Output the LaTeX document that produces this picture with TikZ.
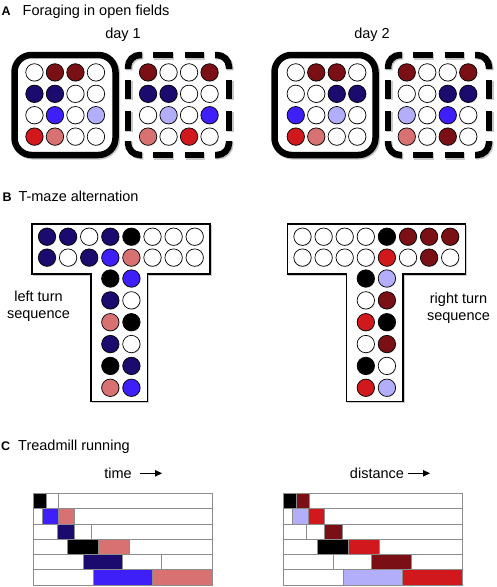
\documentclass[tikz,border=0pt]{standalone}
\usepackage{fontspec}
\setmainfont{Liberation Sans}
\usetikzlibrary{arrows.meta,shadows}
\definecolor{cDR}{HTML}{7A1015}
\definecolor{cN}{HTML}{1C0B6E}
\definecolor{cB}{HTML}{3F1FF7}
\definecolor{cL}{HTML}{B2AEFA}
\definecolor{cR}{HTML}{D0181D}
\definecolor{cP}{HTML}{D87272}
\definecolor{cK}{HTML}{000000}
\definecolor{cW}{HTML}{FFFFFF}
\definecolor{gridgray}{HTML}{8C8C8C}
\tikzset{
 dot/.style={circle, draw=black, line width=0.7pt, minimum size=17.4pt, inner sep=0pt,
   drop shadow={shadow xshift=0.6pt, shadow yshift=-0.8pt, opacity=0.3}},
 lbl/.style={font=\fontsize{14.5}{17}\selectfont, inner sep=0pt, anchor=base},
 letter/.style={font=\bfseries\fontsize{12.5}{14}\selectfont, inner sep=0pt, anchor=base west},
 solidbox/.style={line width=6.5pt, rounded corners=17pt},
 dashpiece/.style={line width=6.5pt, line cap=butt},
 cell/.style={draw=gridgray, line width=0.8pt},
 maze/.style={draw=black, line width=1.1pt, fill=white},
 timearrow/.style={line width=0.9pt, -{Triangle[length=7pt,width=6.5pt]}},
}
% 4x4 field of dots: cx, cy, prefix, colours
\newcommand\fieldgrid[4]{%
  \foreach \c [count=\i from 0] in {#4} {
    \pgfmathtruncatemacro\col{mod(\i,4)}
    \pgfmathtruncatemacro\row{div(\i,4)}
    \node[dot, fill=\c] (#3-\i) at ({#1+(\col-1.5)*20.5},{#2+(\row-1.5)*21.4}) {};
  }}
% solid arena
\newcommand\solidfield[2]{%
  \draw[solidbox, black!22] ({#1-50.5+1.3},{#2-50+1.3}) rectangle ({#1+50.5+1.3},{#2+50+1.3});
  \draw[solidbox, fill=white] ({#1-50.5},{#2-50}) rectangle ({#1+50.5},{#2+50});}
% dashed arena
\newcommand\dashpieces[3]{%
 \begin{scope}[shift={(#1,#2)}]
  \foreach \sx/\sy in {-1/-1,1/-1,1/1,-1/1} {
    \draw[dashpiece, #3, rounded corners=12pt] ({\sx*50.5},{\sy*50-\sy*14}) -- ({\sx*50.5},{\sy*50}) -- ({\sx*50.5-\sx*14},{\sy*50});
  }
  \foreach \s in {-1,1} {
   \draw[dashpiece, #3] (-25.5,{\s*50}) -- (-6,{\s*50});
   \draw[dashpiece, #3] (6,{\s*50}) -- (25.5,{\s*50});
   \draw[dashpiece, #3] ({\s*50.5},-25.5) -- ({\s*50.5},-6);
   \draw[dashpiece, #3] ({\s*50.5},6) -- ({\s*50.5},25.5);
  }
 \end{scope}}
\newcommand\dashfield[2]{%
  \dashpieces{#1+1.3}{#2+1.3}{black!22}
  \dashpieces{#1}{#2}{black}}
% T-maze outline, x offset
\newcommand\mazeshape[1]{%
 \begin{scope}[shift={(#1,0)}]
  \draw[black!20, line width=1.1pt, shift={(1.2,1.2)}] (32,224) -- (210,224) -- (210,274) -- (147.5,274) -- (147.5,401.5) -- (91,401.5) -- (91,274) -- (32,274) -- cycle;
  \draw[maze] (32,224) -- (210,224) -- (210,274) -- (147.5,274) -- (147.5,401.5) -- (91,401.5) -- (91,274) -- (32,274) -- cycle;
 \end{scope}}
% T-maze dots: x offset, prefix, top row 1, top row 2, stem pairs
\newcommand\mazedots[5]{%
  \foreach \c [count=\i from 0] in {#3}
    \node[dot, fill=\c] (#2-a\i) at ({#1+47+21.1*\i},236.7) {};
  \foreach \c [count=\i from 0] in {#4}
    \node[dot, fill=\c] (#2-b\i) at ({#1+47+21.1*\i},257.6) {};
  \foreach \c/\d [count=\i from 0] in {#5} {
    \node[dot, fill=\c] (#2-s\i l) at ({#1+110.3},{278.5+21.85*\i}) {};
    \node[dot, fill=\d] (#2-s\i r) at ({#1+131.4},{278.5+21.85*\i}) {};
  }}
% treadmill row: row index, cells x0/x1/colour
\newcommand\runrow[2]{%
  \foreach \a/\b/\c in {#2}
    \draw[cell, fill=\c] (\a,{493.3+15.3*#1}) rectangle (\b,{493.3+15.3*(#1+1)});}
\begin{document}
\begin{tikzpicture}[x=1pt,y=-1pt]
\useasboundingbox (0,0) rectangle (497,587);

% ---------- A ----------
\node[letter] (la) at (1.5,15.5) {A};
\node[lbl, anchor=base west] (ta) at (22.5,15.5) {Foraging in open fields};
\node[lbl] (d1) at (123,38.3) {day 1};
\node[lbl] (d2) at (372,38.3) {day 2};

\solidfield{65}{105}
\fieldgrid{65.2}{104.5}{f1}{cW,cDR,cDR,cW, cN,cN,cW,cW, cW,cB,cW,cL, cR,cP,cW,cW}
\dashfield{178.5}{105}
\fieldgrid{178.8}{104.5}{f2}{cDR,cW,cW,cDR, cN,cN,cW,cW, cW,cL,cW,cB, cP,cW,cR,cW}

\solidfield{325}{105}
\fieldgrid{326.5}{104.5}{f3}{cW,cDR,cDR,cW, cW,cW,cN,cN, cB,cW,cL,cW, cR,cP,cW,cW}
\dashfield{438.5}{105}
\fieldgrid{437.5}{104.5}{f4}{cDR,cW,cW,cDR, cW,cW,cN,cN, cL,cW,cB,cW, cP,cW,cDR,cW}

% ---------- B ----------
\node[letter] (lb) at (2.5,201) {B};
\node[lbl, anchor=base west] (tb) at (18.3,201) {T-maze alternation};

\mazeshape{0}
\mazedots{0}{m1}{cN,cN,cW,cN,cK,cW,cW,cW}{cN,cW,cN,cB,cP,cW,cW,cW}{cK/cB,cN/cW,cP/cK,cN/cW,cK/cN,cP/cB}
\node[lbl] (lt1) at (38.5,301) {left turn};
\node[lbl] (lt2) at (38.5,318) {sequence};

\mazeshape{255.5}
\mazedots{255.5}{m2}{cW,cW,cW,cW,cK,cDR,cDR,cDR}{cW,cW,cW,cW,cR,cW,cDR,cW}{cK/cL,cW/cDR,cR/cK,cW/cDR,cK/cW,cR/cL}
\node[lbl] (rt1) at (458.5,303) {right turn};
\node[lbl] (rt2) at (458.5,320) {sequence};

% ---------- C ----------
\node[letter] (lc) at (1,450) {C};
\node[lbl, anchor=base west] (tc) at (18,450) {Treadmill running};

\node[lbl] (tm) at (118,478) {time};
\coordinate (ta1) at (140,473.3);
\coordinate (ta2) at (162,473.3);
\draw[timearrow] (ta1) -- (ta2);

\node[lbl] (ds) at (377,478) {distance};
\coordinate (da1) at (407.5,473.3);
\coordinate (da2) at (430,473.3);
\draw[timearrow] (da1) -- (da2);

\runrow{0}{33/46/cK, 46/58.5/cW, 58.5/212/cW}
\runrow{1}{33/42/cW, 42/58.5/cB, 58.5/74/cP, 74/212/cW}
\runrow{2}{33/57/cW, 57/74/cN, 74/91.5/cW, 91.5/212/cW}
\runrow{3}{33/67.5/cW, 67.5/98/cK, 98/129/cP, 129/212/cW}
\runrow{4}{33/83/cW, 83/122/cN, 122/161/cW, 161/212/cW}
\runrow{5}{33/93/cW, 93/152.5/cB, 152.5/212/cP}

\runrow{0}{283/296/cK, 296/309/cDR, 309/462/cW}
\runrow{1}{283/292/cW, 292/308.5/cL, 308.5/324/cR, 324/462/cW}
\runrow{2}{283/306.5/cW, 306.5/324/cW, 324/342/cDR, 342/462/cW}
\runrow{3}{283/317.5/cW, 317.5/348/cK, 348/379/cR, 379/462/cW}
\runrow{4}{283/333/cW, 333/371.5/cW, 371.5/411/cDR, 411/462/cW}
\runrow{5}{283/343/cW, 343/402/cL, 402/462/cR}
\end{tikzpicture}
\end{document}
